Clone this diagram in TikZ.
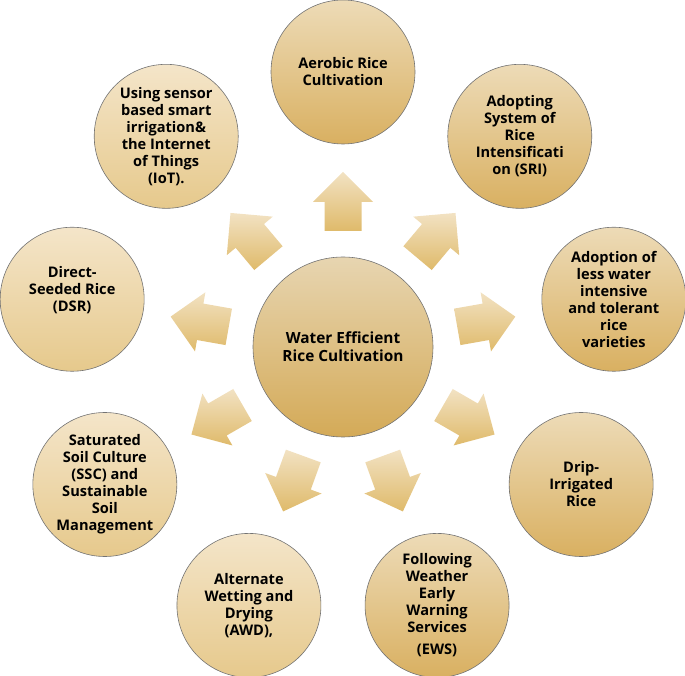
\documentclass[tikz,border=0pt]{standalone}
\usepackage{fontspec}
\setmainfont{Open Sans}
\usetikzlibrary{calc}
\definecolor{HubTop}{HTML}{E7D5B1}
\definecolor{HubBot}{HTML}{D4AA57}
\definecolor{SpokeDTop}{HTML}{EDDBB7}
\definecolor{SpokeDBot}{HTML}{D9B061}
\definecolor{SpokeLTop}{HTML}{F4E5C9}
\definecolor{SpokeLBot}{HTML}{E6C98C}
\definecolor{ArrTop}{HTML}{F2E2C3}
\definecolor{ArrBot}{HTML}{DFBA6A}

\begin{document}
\begin{tikzpicture}[x=1pt, y=1pt,
  font=\bfseries\fontsize{14.6}{17}\selectfont,
  hub/.style={circle, draw=black!55, line width=0.6pt, minimum size=180pt,
              inner sep=0pt, align=center, top color=HubTop, bottom color=HubBot,
              font=\bfseries\fontsize{15.4}{18}\selectfont},
  spokebase/.style={circle, draw=black!55, line width=0.6pt, minimum size=144pt,
              inner sep=0pt, align=center},
  spokeD/.style={spokebase, top color=SpokeDTop, bottom color=SpokeDBot},
  spokeL/.style={spokebase, top color=SpokeLTop, bottom color=SpokeLBot},
  pointer/.style={top color=ArrTop, bottom color=ArrBot}]
\useasboundingbox (-343,-329) rectangle (342,347);
\node[hub] (W) at (0,0) {Water Efficient\\Rice Cultivation};
\node[spokeD] (AR) at (90:275) {Aerobic Rice\\Cultivation};
\node[spokeD] (SRI) at (50:275) {Adopting\\System of\\Rice\\Intensificati\\on (SRI)};
\node[spokeD] (LW) at (10:275) {Adoption of\\less water\\intensive\\and tolerant\\rice\\varieties};
\node[spokeD] (DI) at (-30:275) {Drip-\\Irrigated\\Rice};
\node[spokeD] (EWS) at (-70:275) {Following\\Weather\\Early\\Warning\\Services\\[5pt](EWS)};
\node[spokeL] (AWD) at (-110:275) {Alternate\\Wetting and\\Drying\\(AWD),};
\node[spokeL] (SSC) at (-150:275) {Saturated\\Soil Culture\\(SSC) and\\Sustainable\\Soil\\Management};
\node[spokeL] (DSR) at (170:275) {Direct-\\Seeded Rice\\(DSR)\\[4pt]};
\node[spokeL] (IOT) at (130:275) {Using sensor\\based smart\\irrigation\&\\the Internet\\of Things\\(IoT).};
% block arrows, pointing out from the hub
\foreach \a in {90,50,10,-30,-70,-110,-150,170,130}
  \shade[pointer] ($(\a:116)+(\a+90:18.5)$) -- ($(\a:145)+(\a+90:18.5)$)
    -- ($(\a:145)+(\a+90:30)$) -- (\a:175) -- ($(\a:145)+(\a-90:30)$)
    -- ($(\a:145)+(\a-90:18.5)$) -- ($(\a:116)+(\a-90:18.5)$) -- cycle;
\end{tikzpicture}
\end{document}
